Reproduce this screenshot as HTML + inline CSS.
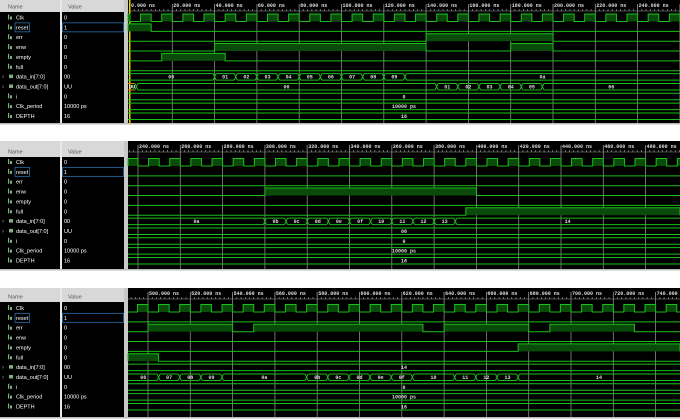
<!DOCTYPE html>
<html><head><meta charset="utf-8">
<style>
html,body{margin:0;padding:0;background:#fff;width:680px;height:420px;overflow:hidden}
svg{position:absolute;left:0;top:0}
text{font-family:"Liberation Sans",sans-serif}
.m{font-family:"Liberation Mono",monospace;font-weight:bold}
</style></head><body>
<svg id="s" width="680" height="420" xmlns="http://www.w3.org/2000/svg"></svg>
<script>
var S=document.getElementById('s'),out='';
function R(x,y,w,h,f,e){out+='<rect x="'+x+'" y="'+y+'" width="'+w+'" height="'+h+'" fill="'+f+'" '+(e||'')+'/>';}
function L(x1,y1,x2,y2,c,w){out+='<line x1="'+x1+'" y1="'+y1+'" x2="'+x2+'" y2="'+y2+'" stroke="'+c+'" stroke-width="'+(w||1)+'"/>';}
function T(x,y,s,c,sz,cls,anc){out+='<text x="'+x+'" y="'+y+'" fill="'+c+'" font-size="'+sz+'" '+(cls?'class="'+cls+'" ':'')+(anc?'text-anchor="'+anc+'"':'')+'>'+s+'</text>';}
var G='#18c018',F='#0a4a0a';
var names=['Clk','reset','err','enw','empty','full','data_in[7:0]','data_out[7:0]','i','Clk_period','DEPTH'];
var vals=['0','1','0','0','0','0','00','UU','0','10000 ps','16'];
function panel(P){
 var top=P.top,bot=P.bot,hh=P.hh,r0=P.r0,st=9.85;
 R(0,top,680,bot-top,'#000');
 R(0,top,60,hh,'#d8d8d8');R(62,top,62,hh,'#d8d8d8');
 T(8,top+hh-3.5,'Name','#555',5.5);T(68,top+hh-3.5,'Value','#555',5.5);
 R(60,top,2,bot-top,'#e8e8e8');R(124,top,4,bot-top,'#c8c8c8');
 R(0,bot-1,680,1.5,'#bbb');
 var X=function(t){return P.x0+2.115*(t-P.t0);};
 // ruler
 for(var t=P.t0-20;t<=P.t0+260;t+=2){var x=X(t);if(x<128||x>680)continue;
   var maj=(t%20===0);L(x,top+(maj?4:9),x,top+11,'#aaa',0.6);
   if(maj){L(x,top+4,x,bot-1,'#8a8a8a',0.8);T(x+1,top+7,t+'.000 ns','#ddd',5,'m');}}
 L(128,top+11,680,top+11,'#999',0.6);
 if(P.cur)R(129,top,1.5,bot-top,'#e0d000');
 for(var i=0;i<11;i++){
   var c=r0+i*st;
   T(i==6||i==7?16:9,c+2,'',G,5);
   // icon
   if(i==6||i==7){T(2,c+2,'›','#aaa',6);R(9,c-2,4,3.5,'#7fb07f');}else{R(8,c-3,1.2,5,'#7fb07f');R(10,c-1,2,3,'#7fb07f');}
   T(16,c+2,names[i],'#fff',5.5);
   if(i==1){out+='<rect x="15" y="'+(c-4.5)+'" width="14.5" height="9" fill="none" stroke="#2a6fb0" stroke-width="0.8"/>';
     out+='<rect x="62.5" y="'+(c-4.5)+'" width="61" height="9" fill="none" stroke="#2a6fb0" stroke-width="0.8"/>';}
   T(64,c+2,vals[i],'#fff',5.5);
   var hi=c-3.5,lo=c+4;
   var sig=P.sig[i];
   if(sig.type=='clk'){
     var d='M128 '+lo;var t0=Math.floor((P.t0-12)/10)*10;
     for(var t=t0;t<P.t0+260;t+=10){var a=X(t+5),b=X(t+10);if(b<128)continue;a=Math.max(a,128);
       R(a,hi,b-a,lo-hi,F);d+=' L'+a+' '+lo+' L'+a+' '+hi+' L'+b+' '+hi+' L'+b+' '+lo;}
     out+='<path d="'+d+'" fill="none" stroke="'+G+'" stroke-width="1"/>';
   }else if(sig.type=='bit'){
     var seg=sig.hi||[];var d='M128 '+lo,cur=lo;
     seg.forEach(function(s){var a=Math.max(X(s[0]),128),b=Math.min(X(s[1]),680);R(a,hi,b-a,lo-hi,F);
       d+=' L'+a+' '+lo+' L'+a+' '+hi+' L'+b+' '+hi+' L'+b+' '+lo;});
     d+=' L680 '+lo;
     out+='<path d="'+d+'" fill="none" stroke="'+G+'" stroke-width="1"/>';
   }else{
     var segs=sig.seg,y1=c-3,y2=c+3.5;
     for(var k=0;k<segs.length;k++){
       var a=Math.max(X(segs[k][0]),128),b=(k+1<segs.length)?X(segs[k+1][0]):680;b=Math.min(b,680);
       var col=segs[k][2]||G;
       var ax=(X(segs[k][0])>128)?a+1.5:a,bx=(k+1<segs.length)?b-1.5:b;
       out+='<path d="M'+ax+' '+y1+' L'+bx+' '+y1+' M'+ax+' '+y2+' L'+bx+' '+y2+'" stroke="'+col+'" stroke-width="1"/>';
       if(k+1<segs.length){out+='<path d="M'+(b-1.5)+' '+y1+' L'+(b+1.5)+' '+y2+' M'+(b-1.5)+' '+y2+' L'+(b+1.5)+' '+y1+'" stroke="'+G+'" stroke-width="1"/>';}
       if(k==0&&X(segs[0][0])<=128){}
       T((a+b)/2,c+2,segs[k][1],segs[k][2]?'#fff':'#ddd',5,'m','middle');
     }
   }
 }
}
function bus(list){return {type:'bus',seg:list};}
function cst(v){return bus([[-1000,v]]);}
var clk={type:'clk'};
panel({top:0,bot:124,hh:12,r0:17.5,x0:130,t0:0,cur:true,sig:[clk,
 {type:'bit',hi:[[-5,10]]},{type:'bit',hi:[[140,200]]},{type:'bit',hi:[[40,140],[180,200]]},
 {type:'bit',hi:[[15,45]]},{type:'bit'},
 bus([[-1,'00'],[40,'01'],[50,'02'],[60,'03'],[70,'04'],[80,'05'],[90,'06'],[100,'07'],[110,'08'],[120,'09'],[130,'0a']]),
 bus([[-1,'UU','#d08000'],[3,'00'],[145,'01'],[155,'02'],[165,'03'],[175,'04'],[185,'05'],[195,'06']]),
 cst('0'),cst('10000 ps'),cst('16')]});
panel({top:141,bot:270,hh:16,r0:162,x0:138,t0:240,sig:[clk,
 {type:'bit'},{type:'bit'},{type:'bit',hi:[[300,400]]},{type:'bit'},{type:'bit',hi:[[395,600]]},
 bus([[0,'0a'],[300,'0b'],[310,'0c'],[320,'0d'],[330,'0e'],[340,'0f'],[350,'10'],[360,'11'],[370,'12'],[380,'13'],[390,'14']]),
 cst('06'),cst('0'),cst('10000 ps'),cst('16')]});
panel({top:288,bot:418,hh:14,r0:308,x0:148,t0:500,sig:[clk,
 {type:'bit'},{type:'bit',hi:[[500,540],[550,630],[640,680],[690,730]]},{type:'bit'},{type:'bit',hi:[[675,900]]},{type:'bit',hi:[[400,505]]},
 cst('14'),
 bus([[0,'06'],[505,'07'],[515,'08'],[525,'09'],[535,'0a'],[575,'0b'],[585,'0c'],[595,'0d'],[605,'0e'],[615,'0f'],[625,'10'],[645,'11'],[655,'12'],[665,'13'],[675,'14']]),
 cst('0'),cst('10000 ps'),cst('16')]});
S.innerHTML=out;
</script>
</body></html>
